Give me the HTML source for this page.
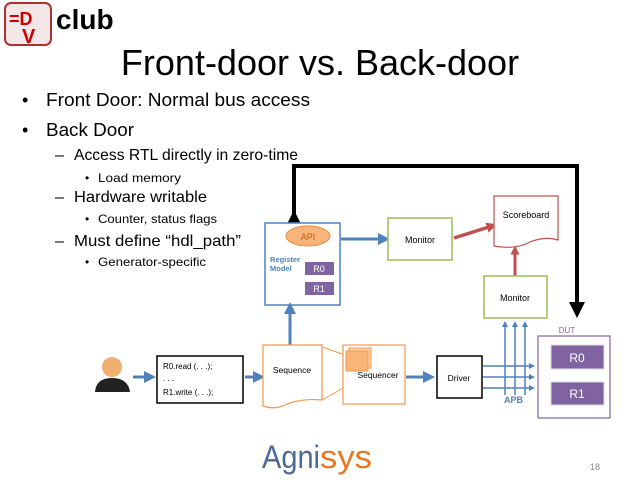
<!DOCTYPE html>
<html><head><style>
body{margin:0;background:#fff;}
svg text{font-family:"Liberation Sans",sans-serif;}
</style></head><body>
<svg width="638" height="479" viewBox="0 0 638 479" xmlns="http://www.w3.org/2000/svg">
<defs>
<marker id="bk" markerWidth="4" markerHeight="4" refX="2" refY="2" orient="auto"><path d="M0,0 L4,2 L0,4Z" fill="#000"/></marker>
<marker id="bl" markerWidth="4" markerHeight="4" refX="2" refY="2" orient="auto"><path d="M0,0 L4,2 L0,4Z" fill="#4f81bd"/></marker>
<marker id="rd" markerWidth="3" markerHeight="3" refX="1.5" refY="1.5" orient="auto"><path d="M0,0 L3,1.5 L0,3Z" fill="#c0504d"/></marker>
</defs>
<!-- logo -->
<rect x="5" y="3" width="46" height="42" rx="6" fill="#f3e6e6" stroke="#b03030" stroke-width="2"/>
<text x="9" y="25" font-size="18" font-weight="bold" fill="#c00">=D</text>
<text x="22" y="43" font-size="20" font-weight="bold" fill="#c00">V</text>
<text x="56" y="29" font-size="28" font-weight="bold" fill="#000">club</text>
<text x="320" y="75" font-size="36" text-anchor="middle" fill="#000">Front-door vs. Back-door</text>
<g font-size="18" fill="#000">
<text x="22" y="106">•</text><text x="46" y="106" textLength="264" lengthAdjust="spacingAndGlyphs">Front Door: Normal bus access</text>
<text x="22" y="136">•</text><text x="46" y="136" textLength="88" lengthAdjust="spacingAndGlyphs">Back Door</text>
<text x="55" y="160" font-size="16">–</text><text x="74" y="160" font-size="16" textLength="224" lengthAdjust="spacingAndGlyphs">Access RTL directly in zero-time</text>
<text x="55" y="202" font-size="16">–</text><text x="74" y="202" font-size="16" textLength="133" lengthAdjust="spacingAndGlyphs">Hardware writable</text>
<text x="55" y="246" font-size="16">–</text><text x="74" y="246" font-size="16" textLength="167" lengthAdjust="spacingAndGlyphs">Must define “hdl_path”</text>
</g>
<g font-size="12" fill="#000">
<text x="85" y="182">•</text><text x="98" y="182" textLength="83" lengthAdjust="spacingAndGlyphs">Load memory</text>
<text x="85" y="223">•</text><text x="98" y="223" textLength="119" lengthAdjust="spacingAndGlyphs">Counter, status flags</text>
<text x="85" y="266">•</text><text x="98" y="266" textLength="108" lengthAdjust="spacingAndGlyphs">Generator-specific</text>
</g>
<!-- black backdoor line -->
<path d="M294,218 V166 H577 V310" fill="none" stroke="#000" stroke-width="4" marker-start="url(#bk)" marker-end="url(#bk)"/>
<!-- register model -->
<rect x="265" y="223" width="75" height="82" fill="#fff" stroke="#4f81bd" stroke-width="1.5"/>
<ellipse cx="308" cy="236" rx="22" ry="10" fill="#f9b47a" stroke="#e98a3c"/>
<text x="308" y="240" font-size="9" text-anchor="middle" fill="#c55a11">API</text>
<text x="270" y="262" font-size="7.5" font-weight="bold" fill="#4f81bd">Register</text>
<text x="270" y="271" font-size="7.5" font-weight="bold" fill="#4f81bd">Model</text>
<rect x="305" y="262" width="29" height="13" fill="#8064a2"/><text x="319" y="272" font-size="9" text-anchor="middle" fill="#fff">R0</text>
<rect x="305" y="282" width="29" height="13" fill="#8064a2"/><text x="319" y="292" font-size="9" text-anchor="middle" fill="#fff">R1</text>
<line x1="341" y1="239" x2="384" y2="239" stroke="#4f81bd" stroke-width="3" marker-end="url(#bl)"/>
<rect x="388" y="218" width="64" height="42" fill="#fff" stroke="#9bbb59" stroke-width="1.5"/>
<text x="420" y="243" font-size="9" text-anchor="middle">Monitor</text>
<line x1="454" y1="238" x2="492" y2="226" stroke="#c0504d" stroke-width="3.5" marker-end="url(#rd)"/>
<path d="M494,196 H558 V240 Q545,236 530,242 Q515,250 494,246 Z" fill="#fff" stroke="#c0504d" stroke-width="1.2"/>
<text x="526" y="218" font-size="9" text-anchor="middle">Scoreboard</text>
<line x1="515" y1="276" x2="515" y2="250" stroke="#c0504d" stroke-width="3" marker-end="url(#rd)"/>
<rect x="484" y="276" width="63" height="42" fill="#fff" stroke="#9bbb59" stroke-width="1.5"/>
<text x="515" y="301" font-size="9" text-anchor="middle">Monitor</text>
<g stroke="#4f81bd" stroke-width="1.5">
<line x1="505" y1="395" x2="505" y2="324" marker-end="url(#bl)"/>
<line x1="515" y1="395" x2="515" y2="324" marker-end="url(#bl)"/>
<line x1="525" y1="395" x2="525" y2="324" marker-end="url(#bl)"/>
<line x1="483" y1="366" x2="532" y2="366" marker-end="url(#bl)"/>
<line x1="483" y1="377" x2="532" y2="377" marker-end="url(#bl)"/>
<line x1="483" y1="388" x2="532" y2="388" marker-end="url(#bl)"/>
</g>
<text x="567" y="333" font-size="8" fill="#8064a2" text-anchor="middle">DUT</text>
<rect x="538" y="336" width="72" height="82" fill="#fff" stroke="#8064a2" stroke-width="1.2"/>
<rect x="551" y="345" width="53" height="24" fill="#8064a2" stroke="#ddd"/><text x="577" y="362" font-size="12" text-anchor="middle" fill="#fff">R0</text>
<rect x="551" y="382" width="53" height="23" fill="#8064a2" stroke="#ddd"/><text x="577" y="398" font-size="12" text-anchor="middle" fill="#fff">R1</text>
<text x="504" y="403" font-size="9" font-weight="bold" fill="#4f81bd">APB</text>
<!-- person -->
<circle cx="112" cy="367" r="10" fill="#f0b070"/>
<path d="M95,392 Q96,378 112,378 Q128,378 130,392 Z" fill="#222"/>
<line x1="133" y1="377" x2="150" y2="377" stroke="#4f81bd" stroke-width="3" marker-end="url(#bl)"/>
<rect x="157" y="356" width="86" height="47" fill="#fff" stroke="#000" stroke-width="1.5"/>
<g font-size="8"><text x="163" y="369">R0.read (. . .);</text><text x="163" y="381">. . .</text><text x="163" y="395">R1.write (. . .);</text></g>
<line x1="245" y1="377" x2="259" y2="377" stroke="#4f81bd" stroke-width="3" marker-end="url(#bl)"/>
<line x1="290" y1="345" x2="290" y2="308" stroke="#4f81bd" stroke-width="3" marker-end="url(#bl)"/>
<path d="M263,345 H322 V400 Q300,398 285,405 Q275,410 263,406 Z" fill="#fff" stroke="#f79646" stroke-width="1.2"/>
<path d="M322,347 L345,355 M322,400 L345,387" stroke="#f79646"/>
<text x="292" y="373" font-size="8.5" text-anchor="middle">Sequence</text>
<rect x="343" y="345" width="62" height="59" fill="#fff" stroke="#f79646" stroke-width="1.2"/>
<rect x="349" y="348" width="22" height="20" fill="#fcd5b4" stroke="#f79646"/>
<rect x="346" y="351" width="22" height="20" fill="#f9b47a" stroke="#f79646"/>
<text x="378" y="378" font-size="8.5" text-anchor="middle">Sequencer</text>
<line x1="406" y1="377" x2="429" y2="377" stroke="#4f81bd" stroke-width="3" marker-end="url(#bl)"/>
<rect x="437" y="356" width="45" height="42" fill="#fff" stroke="#000" stroke-width="1.5"/>
<text x="459" y="381" font-size="8.5" text-anchor="middle">Driver</text>
<text x="262" y="468" font-size="32" fill="#4a6a9a" textLength="58" lengthAdjust="spacingAndGlyphs">Agni</text>
<text x="320" y="468" font-size="32" fill="#e87722" textLength="52" lengthAdjust="spacingAndGlyphs">sys</text>
<text x="590" y="470" font-size="9" fill="#888">18</text>
</svg>
</body></html>
